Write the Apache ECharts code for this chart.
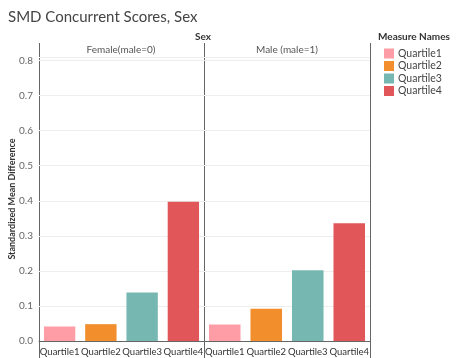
<!DOCTYPE html>
<html><head><meta charset="utf-8">
<script src="https://cdn.jsdelivr.net/npm/echarts@6/dist/echarts.min.js"></script>
<style>html,body{margin:0;padding:0;background:#fff}#c{width:474px;height:358px}</style>
</head><body><div id="c"></div>
<script>
const categories = ['Quartile1', 'Quartile2', 'Quartile3', 'Quartile4'];
const panels = ['Female(male=0)', 'Male (male=1)'];
const female = [0.041, 0.048, 0.138, 0.397];
const male = [0.047, 0.092, 0.202, 0.336];
const colors = ['#FF9DA7', '#F28E2B', '#76B7B2', '#E15759'];
const yTicks = [0, 0.1, 0.2, 0.3, 0.4, 0.5, 0.6, 0.7, 0.8];

const FONT = 'Lato, "Open Sans", sans-serif';
const chart = echarts.init(document.getElementById('c'));
const gridTop = 57, gridH = 284;
const grids = [
  {left: 39, top: gridTop, width: 165, height: gridH},
  {left: 204, top: gridTop, width: 166, height: gridH}
];
const series = [];
[female, male].forEach((vals, gi) => {
  categories.forEach((c, ci) => {
    series.push({
      name: c, type: 'bar', xAxisIndex: gi, yAxisIndex: gi, stack: 's' + gi,
      barWidth: '76%', itemStyle: {color: colors[ci]},
      data: categories.map((_, k) => k === ci ? vals[ci] : '-')
    });
  });
});
const xAxes = grids.map((g, i) => ({
  type: 'category', gridIndex: i, data: categories,
  axisLine: {lineStyle: {color: '#666', width: 1}}, axisTick: {show: false},
  axisLabel: {color: '#333', fontSize: 9.5, fontFamily: FONT, margin: 6, interval: 0}
}));
const yAxes = grids.map((g, i) => ({
  type: 'value', gridIndex: i, min: 0, max: 0.81, interval: 0.1,
  axisLine: {show: false}, axisTick: {show: false},
  splitLine: {lineStyle: {color: '#eeeeee', width: 1}},
  axisLabel: {show: i === 0, color: '#666', fontSize: 10, fontFamily: FONT, margin: 6, showMaxLabel: false,
    formatter: v => yTicks.some(t => Math.abs(t - v) < 1e-9) ? v.toFixed(1) : ''}
}));
const line = (x1, y1, x2, y2) => ({type: 'line', shape: {x1, y1, x2, y2}, style: {stroke: '#666', lineWidth: 1}, silent: true});
chart.setOption({
  animation: false,
  title: {text: 'SMD Concurrent Scores, Sex', left: 3, top: 5,
    textStyle: {fontSize: 15, fontWeight: 'normal', color: '#444', fontFamily: FONT}},
  legend: {data: categories, orient: 'vertical', left: 379, top: 43, icon: 'rect', itemWidth: 10, itemHeight: 10,
    itemGap: 1.5, textStyle: {fontSize: 10.5, color: '#444', fontFamily: FONT, padding: [0, 0, 0, -1]}},
  grid: grids, xAxis: xAxes, yAxis: yAxes, series,
  graphic: [
    line(39.5, 43, 39.5, 358), line(204.5, 43, 204.5, 358), line(370.5, 43, 370.5, 358),
    line(39, 57.5, 370, 57.5),
    {type: 'text', left: 195, top: 32, style: {text: 'Sex', font: 'bold 10px ' + FONT, fill: '#333'}},
    {type: 'text', x: 121, y: 50, style: {text: panels[0], font: '10px ' + FONT, fill: '#555', align: 'center', verticalAlign: 'middle'}},
    {type: 'text', x: 287, y: 50, style: {text: panels[1], font: '10px ' + FONT, fill: '#555', align: 'center', verticalAlign: 'middle'}},
    {type: 'text', left: 378, top: 32, style: {text: 'Measure Names', font: 'bold 10px ' + FONT, fill: '#333'}},
    {type: 'text', x: 12, y: 199, rotation: Math.PI / 2, style: {text: 'Standardized Mean Difference', font: 'bold 9px ' + FONT, fill: '#333', align: 'center', verticalAlign: 'middle'}}
  ]
});
</script></body></html>
